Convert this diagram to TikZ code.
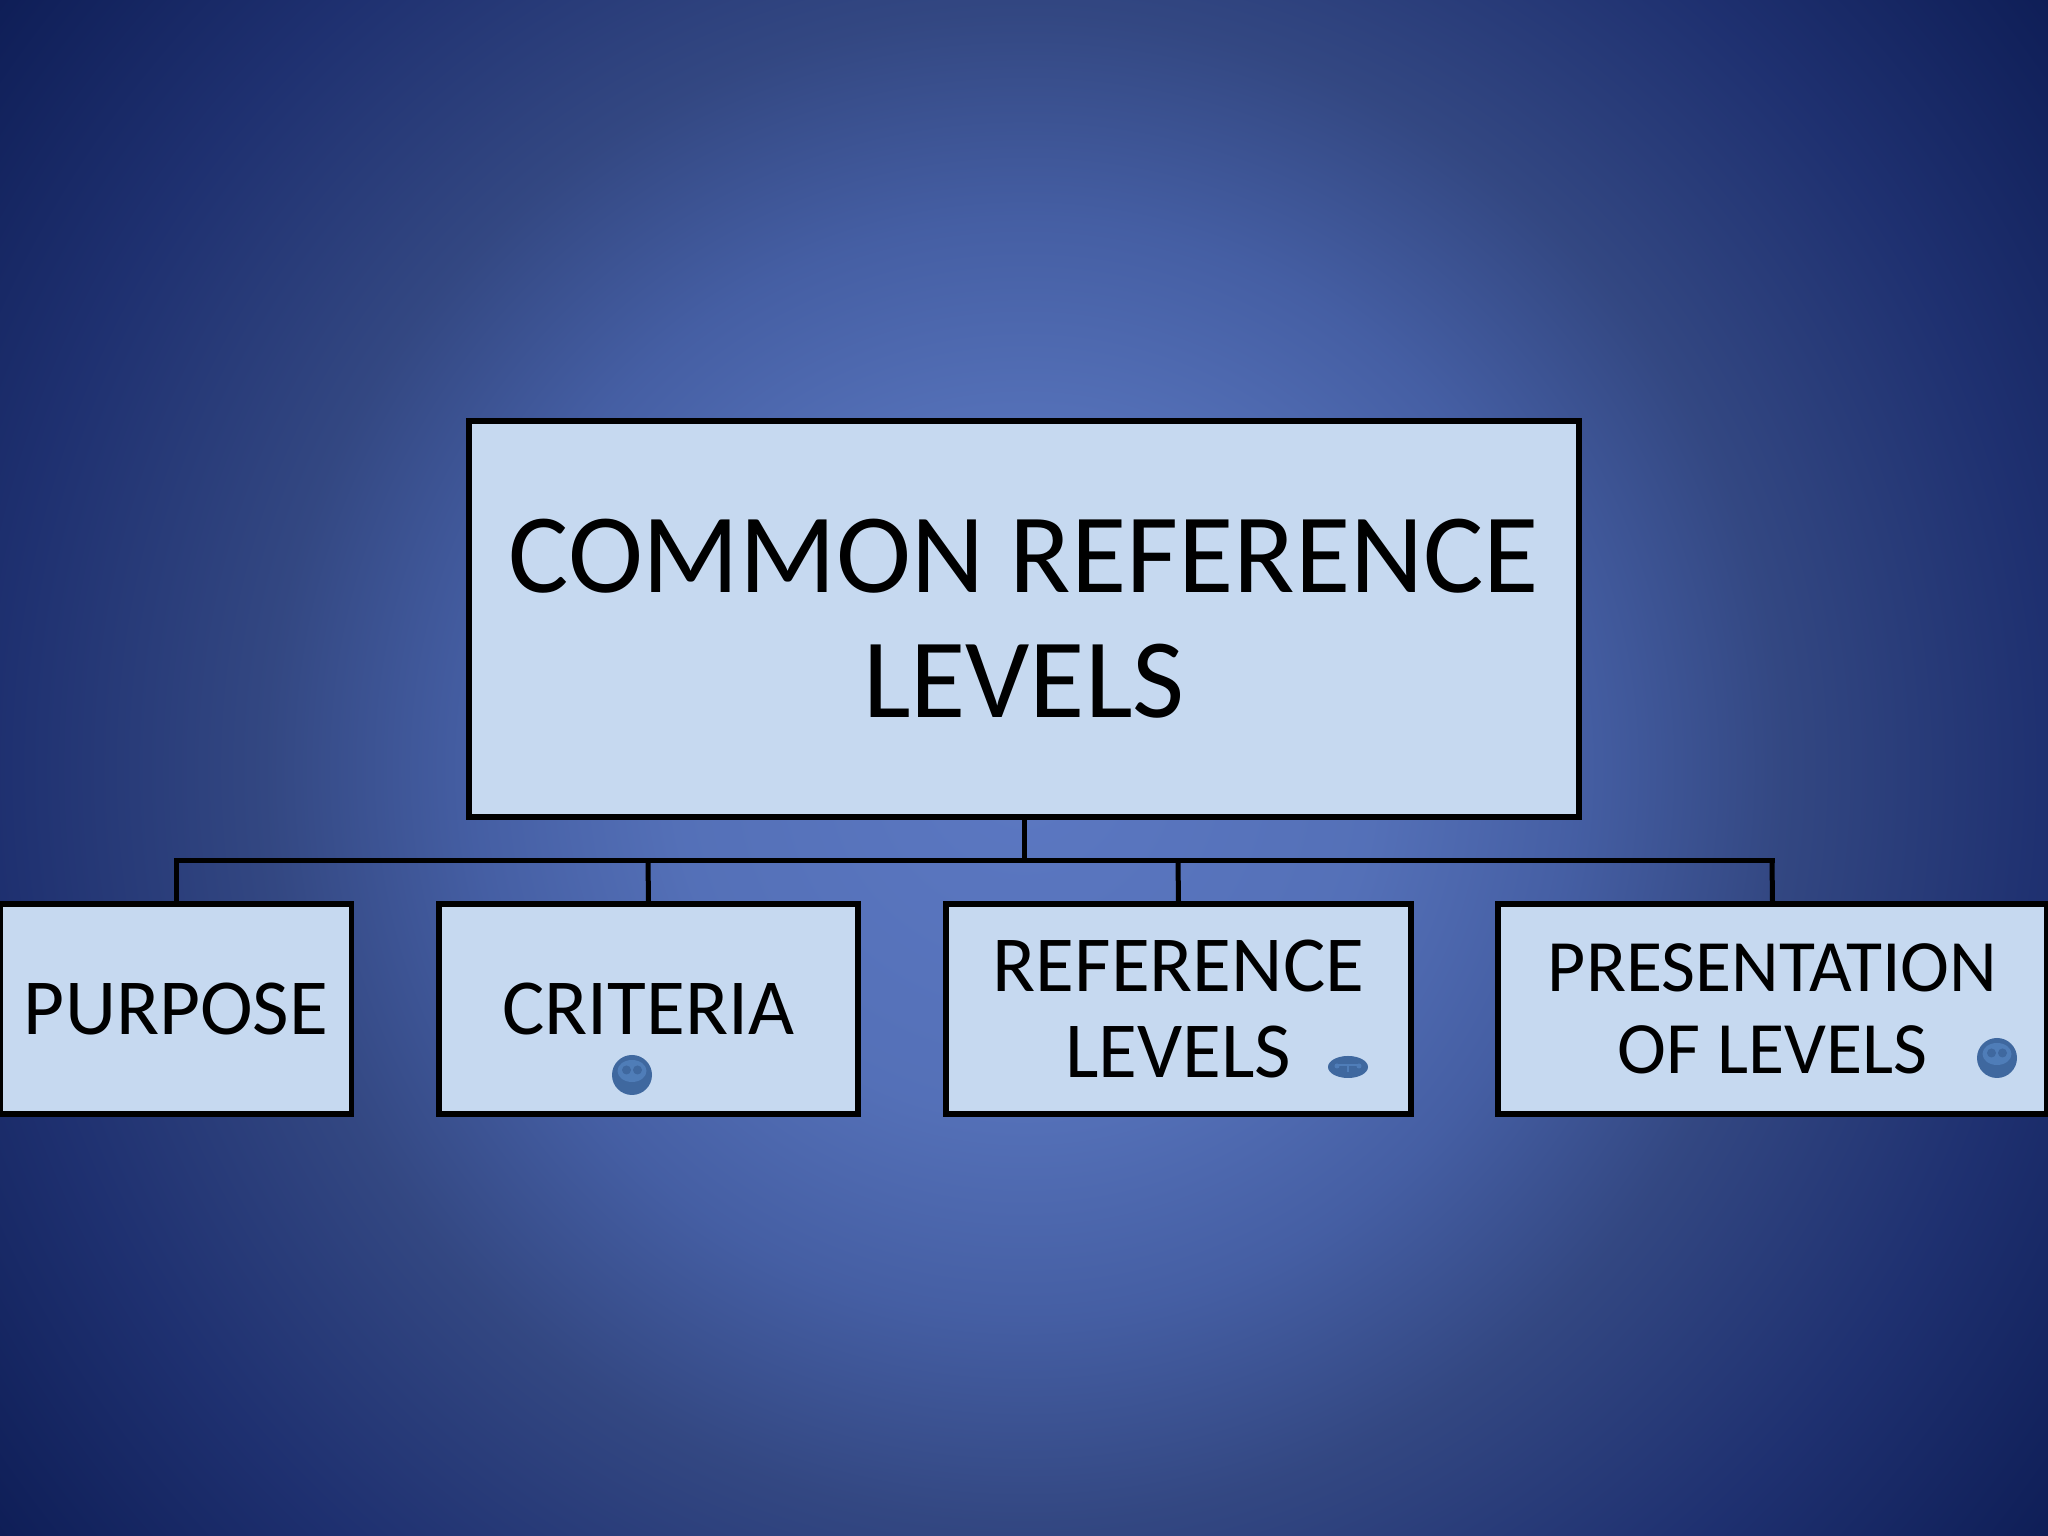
\documentclass[tikz,border=0pt]{standalone}
\usepackage{xcolor}
\usepackage{fontspec}
\setmainfont{Carlito}
\usepackage{tikz}
\usetikzlibrary{positioning}
\usetikzlibrary{shapes.geometric}
\definecolor{boxblue}{HTML}{C6D9F0}
\definecolor{iconblue}{HTML}{3F689F}
\definecolor{faceblue}{HTML}{4F7DB8}
\pgfdeclareradialshading{slideback}{\pgfpoint{0bp}{0bp}}{%
  rgb(0bp)=(0.36,0.47,0.76);
  rgb(8.5bp)=(0.33,0.44,0.72);
  rgb(13.5bp)=(0.27,0.37,0.64);
  rgb(18.5bp)=(0.20,0.28,0.51);
  rgb(25bp)=(0.12,0.19,0.44);
  rgb(32bp)=(0.05,0.11,0.33);
  rgb(50bp)=(0.05,0.11,0.33)}

\begin{document}
\begin{tikzpicture}
                [level0/.style = {draw, line width=0.055cm, fill=boxblue, minimum width=11.1cm, minimum height=3.96cm, inner sep=0pt, align=center, font=\fontsize{32.2}{35.6}\selectfont},
                level1/.style = {draw, line width=0.055cm, fill=boxblue, minimum height=2.1cm, inner sep=0pt, align=center, font=\fontsize{22.6}{24.5}\selectfont},
                bar/.style = {line width=0.05cm, line cap=rect},
                icon/.style = {circle, fill=iconblue, minimum size=0.4cm, inner sep=0pt},
                icon1/.style = {ellipse, fill=iconblue, minimum width=0.4cm, minimum height=0.22cm, inner sep=0pt},
                face/.style = {ellipse, fill=faceblue, minimum width=0.29cm, minimum height=0.22cm, inner sep=0pt},
                eye/.style = {circle, fill=iconblue, minimum size=0.09cm, inner sep=0pt},
                mouth/.style = {fill=iconblue, minimum width=0.2cm, minimum height=0.05cm, inner sep=0pt}]
                \useasboundingbox (0,0) rectangle (20.48,15.36);
                % Background
                \shade[shading=slideback] (0,-2.5) rectangle (20.48,17.86);
                % Top box
                \node[level0] (root) at (10.24,9.17) {COMMON REFERENCE\\LEVELS};
                % Boxes of the second row
                \node[level1, minimum width=3.51cm] (purpose) at (1.76,5.27) {PURPOSE};
                \node[level1, minimum width=4.19cm] (criteria) at (6.485,5.27) {CRITERIA};
                \node[level1, minimum width=4.65cm] (reflevels) at (11.785,5.27) {REFERENCE\\LEVELS};
                \node[level1, minimum width=5.49cm, font=\fontsize{21}{23.4}\selectfont] (presentation) at (17.725,5.27) {PRESENTATION\\OF LEVELS};
                % Bus line
                \coordinate (busleft) at (1.76,6.75);
                \coordinate (busright) at (17.72,6.75);
                \coordinate (busroot) at (10.24,6.75);
                \coordinate (buscriteria) at (6.48,6.75);
                \coordinate (busref) at (11.78,6.75);
                % Lines
                \path[bar] (busleft) edge (busright);
                \path[bar] (root.south) edge (busroot);
                \path[bar] (busleft) edge (purpose.north);
                \path[bar] (buscriteria) edge (criteria.north);
                \path[bar] (busref) edge (reflevels.north);
                \path[bar] (busright) edge (presentation.north);
                % Faces on the boxes
                \node[icon] (iconcriteria) at (6.32,4.61) {};
                \node[face] (facecriteria) at (6.32,4.65) {};
                \node[eye] (eyecriteriaa) at (6.265,4.66) {};
                \node[eye] (eyecriteriab) at (6.375,4.66) {};
                \node[mouth] (mouthcriteria) at (6.32,4.5) {};
                \node[icon1] (iconref) at (13.48,4.69) {};
                \node[mouth, fill=faceblue, minimum width=0.26cm, minimum height=0.02cm] (mouthref) at (13.48,4.71) {};
                \node[mouth, fill=faceblue, minimum width=0.025cm, minimum height=0.07cm] (toothref) at (13.48,4.67) {};
                \node[eye, fill=faceblue, minimum size=0.05cm] (eyerefa) at (13.37,4.7) {};
                \node[eye, fill=faceblue, minimum size=0.05cm] (eyerefb) at (13.59,4.7) {};
                \node[icon] (iconpres) at (19.97,4.78) {};
                \node[face] (facepres) at (19.97,4.82) {};
                \node[eye] (eyepresa) at (19.915,4.83) {};
                \node[eye] (eyepresb) at (20.025,4.83) {};
                \node[mouth] (mouthpres) at (19.97,4.67) {};
            \end{tikzpicture}
\end{document}
